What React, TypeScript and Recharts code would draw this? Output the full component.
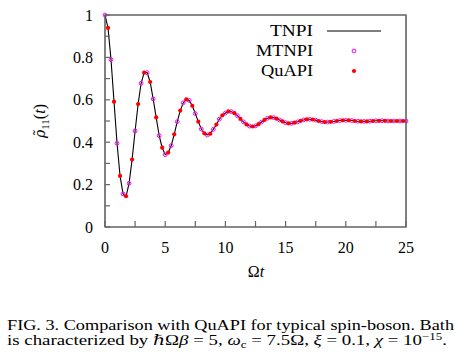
import { ComposedChart, Line, XAxis, YAxis, Legend } from 'recharts';

// time grid (Ωt), every 0.25
const TIME = [
  0, 0.25, 0.5, 0.75, 1, 1.25, 1.5, 1.75, 2, 2.25, 2.5, 2.75, 3, 3.25, 3.5, 3.75,
  4, 4.25, 4.5, 4.75, 5, 5.25, 5.5, 5.75, 6, 6.25, 6.5, 6.75, 7, 7.25, 7.5, 7.75,
  8, 8.25, 8.5, 8.75, 9, 9.25, 9.5, 9.75, 10, 10.25, 10.5, 10.75, 11, 11.25, 11.5, 11.75,
  12, 12.25, 12.5, 12.75, 13, 13.25, 13.5, 13.75, 14, 14.25, 14.5, 14.75, 15, 15.25, 15.5, 15.75,
  16, 16.25, 16.5, 16.75, 17, 17.25, 17.5, 17.75, 18, 18.25, 18.5, 18.75, 19, 19.25, 19.5, 19.75,
  20, 20.25, 20.5, 20.75, 21, 21.25, 21.5, 21.75, 22, 22.25, 22.5, 22.75, 23, 23.25, 23.5, 23.75,
  24, 24.25, 24.5, 24.75, 25,
];

// rho_11(t)
const TNPI = [
  1.0, 0.939, 0.789, 0.591, 0.395, 0.241, 0.156, 0.145, 0.206, 0.318, 0.453, 0.58, 0.678, 0.728, 0.728, 0.684,
  0.604, 0.517, 0.431, 0.374, 0.341, 0.351, 0.384, 0.437, 0.497, 0.549, 0.586, 0.602, 0.597, 0.572, 0.535, 0.497,
  0.462, 0.442, 0.434, 0.44, 0.461, 0.483, 0.509, 0.527, 0.538, 0.545, 0.544, 0.537, 0.525, 0.51, 0.496, 0.484,
  0.476, 0.474, 0.477, 0.485, 0.495, 0.505, 0.513, 0.517, 0.516, 0.511, 0.505, 0.498, 0.492, 0.489, 0.489, 0.492,
  0.496, 0.501, 0.505, 0.508, 0.508, 0.507, 0.504, 0.5, 0.497, 0.495, 0.495, 0.496, 0.498, 0.5, 0.502, 0.503,
  0.503, 0.503, 0.502, 0.5, 0.499, 0.498, 0.498, 0.498, 0.499, 0.5, 0.501, 0.501, 0.501, 0.501, 0.5, 0.5,
  0.5, 0.5, 0.5, 0.5, 0.5,
];

const X_TICKS = [0, 2.5, 5, 7.5, 10, 12.5, 15, 17.5, 20, 22.5, 25];
const Y_TICKS = [0, 0.1, 0.2, 0.3, 0.4, 0.5, 0.6, 0.7, 0.8, 0.9, 1];

// plot box corners (axis ranges), walked in order
const BOX_T = [0, 25, 25, 0, 0];
const BOX_V = [0, 0, 1, 1, 0];

const FRAME = '#666666';
const FONT = '"Liberation Serif", "DejaVu Serif", serif';

const lineData = TIME.map((t, i) => ({ t, v: TNPI[i] }));
// MTNPI on whole/half steps, QuAPI in between
const mtnpiData = lineData.filter((_, i) => i % 2 === 0);
const quapiData = lineData.filter((_, i) => i % 2 === 1);
const boxData = BOX_T.map((t, i) => ({ t, v: BOX_V[i] }));

const BottomTick = ({ x, y, payload }: any) => (
  <g>
    <line x1={x} x2={x} y1={y} y2={y - 6} stroke={FRAME} strokeWidth={1.2} />
    {payload.value % 5 === 0 && (
      <text x={x} y={y + 26} textAnchor="middle" fontSize={16} fontFamily={FONT} fill="#000">
        {payload.value}
      </text>
    )}
  </g>
);

const TopTick = ({ x, y }: any) => <line x1={x} x2={x} y1={y} y2={y + 6} stroke={FRAME} strokeWidth={1.2} />;

const LeftTick = ({ x, y, payload }: any) => (
  <g>
    <line x1={x} x2={x + 5} y1={y} y2={y} stroke={FRAME} strokeWidth={1.2} />
    {Math.round(payload.value * 10) % 2 === 0 && (
      <text x={x - 12} y={y + 5.5} textAnchor="end" fontSize={16} fontFamily={FONT} fill="#000">
        {Math.round(payload.value * 10) / 10}
      </text>
    )}
  </g>
);

const RightTick = ({ x, y }: any) => <line x1={x} x2={x - 5} y1={y} y2={y} stroke={FRAME} strokeWidth={1.2} />;

const KeyBox = () => (
  <svg width={180} height={70} style={{ display: 'block' }}>
    <g fontFamily={FONT} fontSize={16} fill="#000">
      <text x={83} y={18} textAnchor="end" textLength={43} lengthAdjust="spacingAndGlyphs">TNPI</text>
      <text x={83} y={38} textAnchor="end" textLength={57} lengthAdjust="spacingAndGlyphs">MTNPI</text>
      <text x={83} y={58} textAnchor="end" textLength={52} lengthAdjust="spacingAndGlyphs">QuAPI</text>
    </g>
    <line x1={97} x2={151} y1={13} y2={13} stroke="#000" strokeWidth={1.1} />
    <circle cx={124} cy={33} r={1.9} fill="none" stroke="#ff00ff" strokeWidth={1} />
    <circle cx={124} cy={53} r={2.1} fill="#ff0000" />
  </svg>
);

export default function App() {
  return (
    <div style={{ position: 'absolute', left: 0, top: 0, width: 461, height: 358, background: '#fff' }}>
      <ComposedChart width={461} height={358} margin={{ top: 14, right: 54, bottom: 130, left: 104 }}>
        <XAxis xAxisId="b" type="number" dataKey="t" domain={[0, 25]} ticks={X_TICKS} interval={0}
          height={1} tickSize={0} tickMargin={0} tickLine={false} axisLine={false} tick={<BottomTick />} />
        <XAxis xAxisId="t" orientation="top" type="number" dataKey="t" domain={[0, 25]} ticks={X_TICKS} interval={0}
          height={1} tickSize={0} tickMargin={0} tickLine={false} axisLine={false} tick={<TopTick />} />
        <YAxis yAxisId="l" type="number" domain={[0, 1]} ticks={Y_TICKS} interval={0}
          width={1} tickSize={0} tickMargin={0} tickLine={false} axisLine={false} tick={<LeftTick />} />
        <YAxis yAxisId="r" orientation="right" type="number" domain={[0, 1]} ticks={Y_TICKS} interval={0}
          width={1} tickSize={0} tickMargin={0} tickLine={false} axisLine={false} tick={<RightTick />} />
        <Legend layout="horizontal" verticalAlign="middle" align="center" content={() => <KeyBox />}
          wrapperStyle={{ position: 'absolute', left: 230, top: 18, width: 180, height: 70 }} />
        <Line xAxisId="b" yAxisId="l" data={boxData} dataKey="v" type="linear" legendType="none"
          stroke={FRAME} strokeWidth={1.2} dot={false} activeDot={false} isAnimationActive={false} />
        <Line xAxisId="b" yAxisId="l" data={lineData} dataKey="v" name="TNPI" type="linear"
          stroke="#000" strokeWidth={1.1} dot={false} isAnimationActive={false} />
        <Line xAxisId="b" yAxisId="l" data={mtnpiData} dataKey="v" name="MTNPI" stroke="none"
          dot={{ r: 1.9, fill: 'none', stroke: '#ff00ff', strokeWidth: 1 }} activeDot={false} isAnimationActive={false} />
        <Line xAxisId="b" yAxisId="l" data={quapiData} dataKey="v" name="QuAPI" stroke="none"
          dot={{ r: 2.1, fill: '#ff0000', stroke: 'none' }} activeDot={false} isAnimationActive={false} />
      </ComposedChart>
      <svg width={461} height={358} style={{ position: 'absolute', left: 0, top: 0, pointerEvents: 'none' }}>
        {/* plot frame, same box as the chart's plot area */}
        <rect x={105} y={15} width={301} height={212} fill="none" stroke={FRAME} strokeWidth={1.1} />
        <g fontFamily={FONT} fill="#000">
          <text x={256} y={277} textAnchor="middle" fontSize={16}>
            Ω<tspan fontStyle="italic">t</tspan>
          </text>
          <text transform="translate(45,121) rotate(-90)" textAnchor="middle" fontSize={16}>
            <tspan fontStyle="italic" fontFamily='"DejaVu Serif", serif' fontSize={14}>ρ̃</tspan>
            <tspan fontSize={11} dy={4}>11</tspan>
            <tspan dy={-4}>(</tspan>
            <tspan fontStyle="italic">t</tspan>
            <tspan>)</tspan>
          </text>
          <text x={7} y={329.5} fontSize={14.5} textLength={447} lengthAdjust="spacingAndGlyphs">
            FIG. 3. Comparison with QuAPI for typical spin-boson. Bath
          </text>
          <text x={7} y={345} fontSize={14.5} textLength={440} lengthAdjust="spacingAndGlyphs">
            is characterized by <tspan fontStyle="italic">ℏ</tspan>Ω<tspan fontStyle="italic">β</tspan> = 5,{' '}
            <tspan fontStyle="italic">ω</tspan><tspan fontSize={10} dy={3}>c</tspan><tspan dy={-3}> = 7.5Ω, </tspan>
            <tspan fontStyle="italic">ξ</tspan> = 0.1, <tspan fontStyle="italic">χ</tspan> = 10
            <tspan fontSize={10} dy={-5}>−15</tspan><tspan dy={5}>.</tspan>
          </text>
        </g>
      </svg>
    </div>
  );
}
